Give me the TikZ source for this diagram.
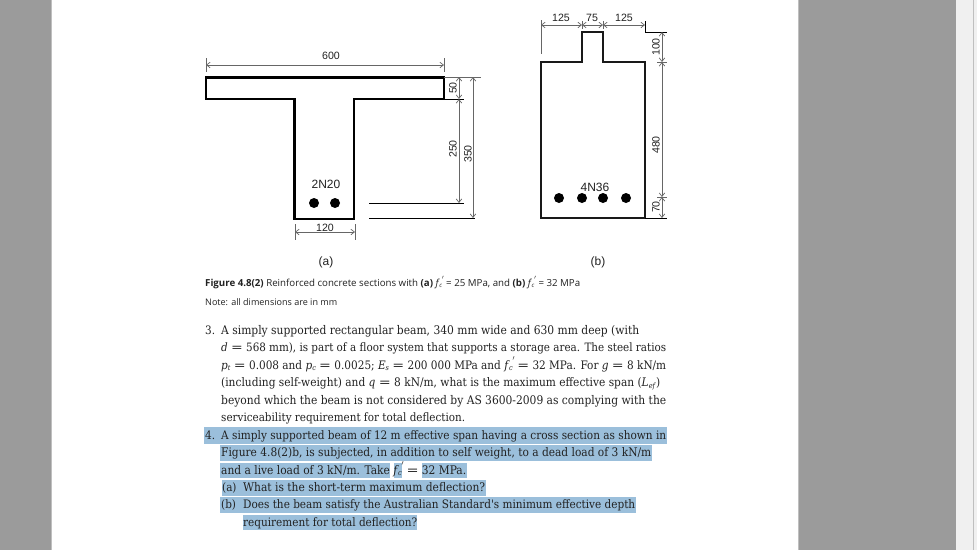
\documentclass[tikz,border=0pt]{standalone}
\usepackage{fontspec}
\usepackage{graphicx}
\setmainfont{Liberation Sans}
\newfontfamily\bodyfont{DejaVu Serif Condensed}
\newfontfamily\capfont{Open Sans}
\newfontfamily\figfont{Liberation Sans}
\usetikzlibrary{arrows.meta}
\definecolor{pagegray}{HTML}{9B9B9B}
\definecolor{hl}{HTML}{9BBFDB}
\definecolor{ink}{HTML}{222222}
\definecolor{dimc}{HTML}{666666}
\newcommand{\fsub}[1]{\raisebox{-0.3ex}{\scalebox{.62}{\textit{#1}}}}
\newcommand{\fpc}{\textit{f}\kern-.05em\fsub{c}\kern-.02em\raisebox{.75ex}{\scalebox{.85}{$'$}}\kern.2em}
\newcommand{\eq}{\scalebox{1.35}[1]{=}}
\newcommand{\fitw}[2]{\resizebox{#1pt}{!}{#2}}
\tikzset{
  x=1pt,y=-1pt,
  outline/.style={draw=black,line width=2.8pt,line join=miter},
  outlineb/.style={draw=black!90,line width=1.8pt,line join=miter},
  dimline/.style={draw=dimc,line width=.7pt,{Straight Barb[length=3.5pt,width=5.5pt]}-{Straight Barb[length=3.5pt,width=5.5pt]}},
  extline/.style={draw=dimc,line width=.7pt},
  refline/.style={draw=black,line width=.8pt},
  dimlabel/.style={font=\figfont\fontsize{10.6}{10}\selectfont,text=ink,inner sep=0pt},
  biglabel/.style={font=\figfont\fontsize{12}{12}\selectfont,text=ink,inner sep=0pt},
  vdimlabel/.style={dimlabel,rotate=90},
  rebar/.style={circle,fill=black,inner sep=0pt,minimum size=10pt},
  bodyline/.style={anchor=base west,inner sep=0pt,text=ink,font=\bodyfont\fontsize{11.6}{13}\selectfont},
  capline/.style={anchor=base west,inner sep=0pt,text=ink,font=\capfont\fontsize{9.7}{11}\selectfont},
  highlight/.style={fill=hl,draw=none}
}
\begin{document}
\begin{tikzpicture}
\useasboundingbox (0,0) rectangle (977,550);
% page background
\fill[white] (0,0) rectangle (977,550);
\fill[pagegray] (0,0) rectangle (51,550);
\fill[pagegray] (799,0) rectangle (956,550);
\fill[black!6] (956,0) rectangle (977,550);
\draw[black!25,line width=.8pt] (973.5,0) -- (973.5,550);
\draw[black!25,line width=.6pt] (51.5,0) -- (51.5,550);
\draw[black!25,line width=.6pt] (798.5,0) -- (798.5,550);
% highlights
\fill[highlight] (204,427) rectangle (667,443.5);
\fill[highlight] (220,445) rectangle (652,461);
\fill[highlight] (220,462.5) rectangle (390,478);
\fill[highlight] (393.5,462.5) rectangle (402,478);
\fill[highlight] (422,462.5) rectangle (467,478);
\fill[highlight] (222,479.5) rectangle (486,495.5);
\fill[highlight] (220,497) rectangle (636,513);
\fill[highlight] (243,514.5) rectangle (417,530);
% T section
\draw[outline] (206,77.5) -- (444,77.5) -- (444,99) -- (354,99) -- (354,219) -- (294.5,219) -- (294.5,99) -- (206,99) -- cycle;
\node[rebar] (a1) at (314,203) {};
\node[rebar] (a2) at (335,203) {};
\node[biglabel] (a3) at (326,184.5) {2N20};
\coordinate (p600l) at (206,65); \coordinate (p600r) at (444,65);
\draw[extline] (206,58) -- (206,72);
\draw[extline] (444,58) -- (444,72);
\draw[dimline] (p600l) -- (p600r);
\node[dimlabel] (l600) at (331,56) {600};
\coordinate (p120l) at (295,232); \coordinate (p120r) at (355,232);
\draw[extline] (295,224) -- (295,240);
\draw[extline] (355,224) -- (355,240);
\draw[dimline] (p120l) -- (p120r);
\node[dimlabel] (l120) at (325,228) {120};
\draw[extline] (444,77) -- (481,77);
\draw[refline] (444,99) -- (464,99);
\draw[refline] (369,203) -- (464,203);
\draw[refline] (369,218) -- (475,218);
\coordinate (d1) at (459,77); \coordinate (d2) at (459,99); \coordinate (d3) at (459,203);
\coordinate (e1) at (473,77); \coordinate (e2) at (473,218);
\draw[dimline] (d1) -- (d2);
\draw[dimline] (d2) -- (d3);
\draw[dimline] (e1) -- (e2);
\node[vdimlabel] (l50) at (453,88) {50};
\node[vdimlabel] (l250) at (453,149) {250};
\node[vdimlabel] (l350) at (468,154) {350};
% Rectangular section with stem
\draw[outlineb] (541,62) -- (582,62) -- (582,32) -- (603,32) -- (603,62) -- (645,62) -- (645,218) -- (541,218) -- cycle;
\node[rebar] (b1) at (559,198) {};
\node[rebar] (b2) at (582,198) {};
\node[rebar] (b3) at (603,198) {};
\node[rebar] (b4) at (626,198) {};
\node[biglabel] (b5) at (595,187) {4N36};
\coordinate (h1) at (541,25); \coordinate (h2) at (582,25); \coordinate (h3) at (603,25); \coordinate (h4) at (645,25);
\draw[extline] (541,20) -- (541,54);
\draw[extline] (582,21) -- (582,29);
\draw[extline] (603,21) -- (603,29);
\draw[refline] (645,21) -- (645,32) -- (667,32);
\draw[dimline] (h1) -- (h2);
\draw[dimline] (h2) -- (h3);
\draw[dimline] (h3) -- (h4);
\node[dimlabel] (t1) at (561,18) {125};
\node[dimlabel] (t2) at (592,18) {75};
\node[dimlabel] (t3) at (624,18) {125};
\coordinate (v1) at (662,32); \coordinate (v2) at (662,62); \coordinate (v3) at (662,197); \coordinate (v4) at (662,218);
\draw[dimline] (v1) -- (v2);
\draw[dimline] (v2) -- (v3);
\draw[dimline] (v3) -- (v4);
\draw[extline] (657,62) -- (667,62);
\draw[extline] (657,197) -- (667,197);
\draw[refline] (645,218) -- (667,218);
\node[vdimlabel] (r1) at (656,47) {100};
\node[vdimlabel] (r2) at (656,145) {480};
\node[vdimlabel] (r3) at (656,207) {70};
% captions
\node[biglabel] (capa) at (326,262) {(a)};
\node[biglabel] (capb) at (598,262) {(b)};
\node[capline] (c1) at (205,286) {\fitw{375}{\textbf{Figure 4.8(2)} Reinforced concrete sections with \textbf{(a)} \fpc = 25 MPa, and \textbf{(b)} \fpc = 32 MPa}};
\node[capline] (c2) at (205,305) {\fitw{132}{Note: all dimensions are in mm}};
% problem 3
\node[bodyline] (q3) at (205,334) {3.};
\node[bodyline] (q31) at (221,334) {\fitw{418}{A simply supported rectangular beam, 340 mm wide and 630 mm deep (with}};
\node[bodyline] (q32) at (221,351.5) {\fitw{445}{\textit{d} \eq{} 568 mm), is part of a floor system that supports a storage area. The steel ratios}};
\node[bodyline] (q33) at (221,369) {\fitw{445}{\textit{p}\fsub{t} \eq{} 0.008 and \textit{p}\fsub{c} \eq{} 0.0025; \textit{E}\fsub{s} \eq{} 200 000 MPa and \fpc \eq{} 32 MPa. For \textit{g} \eq{} 8 kN/m}};
\node[bodyline] (q34) at (221,386.5) {\fitw{439}{(including self-weight) and \textit{q} \eq{} 8 kN/m, what is the maximum effective span (\textit{L}\fsub{ef})}};
\node[bodyline] (q35) at (221,404) {\fitw{445}{beyond which the beam is not considered by AS 3600-2009 as complying with the}};
\node[bodyline] (q36) at (221,421.5) {\fitw{244}{serviceability requirement for total deflection.}};
% problem 4
\node[bodyline] (q4) at (205,439) {4.};
\node[bodyline] (q41) at (221,439) {\fitw{445}{A simply supported beam of 12 m effective span having a cross section as shown in}};
\node[bodyline] (q42) at (221,456.5) {\fitw{430}{Figure 4.8(2)b, is subjected, in addition to self weight, to a dead load of 3 kN/m}};
\node[bodyline] (q43) at (221,474) {\fitw{245}{and a live load of 3 kN/m. Take \fpc \eq{} 32 MPa.}};
\node[bodyline] (q44) at (222,491) {(a)};
\node[bodyline] (q45) at (243,491) {\fitw{242}{What is the short-term maximum deflection?}};
\node[bodyline] (q46) at (221,508.5) {(b)};
\node[bodyline] (q47) at (243,508.5) {\fitw{392}{Does the beam satisfy the Australian Standard's minimum effective depth}};
\node[bodyline] (q48) at (243,526) {\fitw{174}{requirement for total deflection?}};
\end{tikzpicture}
\end{document}
